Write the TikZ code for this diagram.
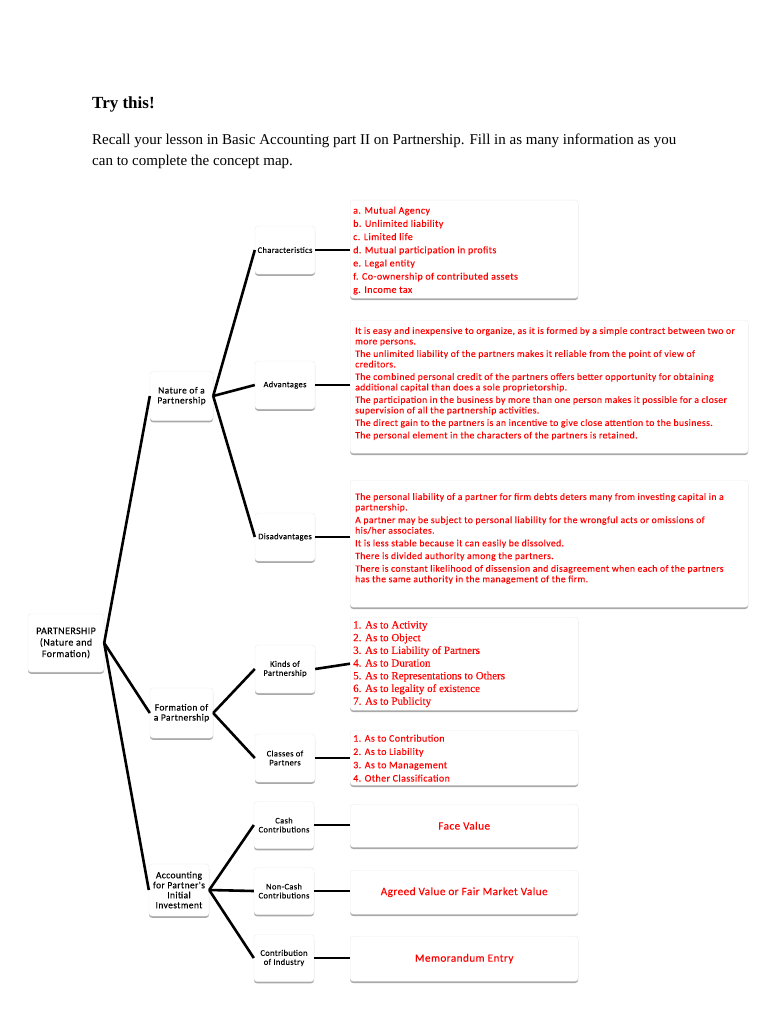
\documentclass[tikz,border=0pt]{standalone}
\usepackage{fontspec}
\setmainfont{Liberation Serif}
\newfontfamily\mapfont[LetterSpace=4,FakeBold=0.12]{Carlito}
\newfontfamily\listserif[FakeBold=0.15]{Liberation Serif}
\usetikzlibrary{shadows}
\definecolor{mapink}{HTML}{000000}
\definecolor{mapred}{HTML}{FF0000}
\definecolor{mapedge}{HTML}{ECECEC}
\definecolor{mapshade}{HTML}{A0A0A0}
\tikzset{
  card/.style={rectangle,rounded corners=3pt,draw=mapedge,fill=white,line width=0.4pt,
    drop shadow={shadow xshift=0pt,shadow yshift=-1.8pt,fill=mapshade,opacity=0.9},
    inner sep=1pt,align=center,text=mapink},
  rootcard/.style={card,minimum width=76pt,minimum height=58pt,
    font=\mapfont\fontsize{10}{11.5}\selectfont},
  topiccard/.style={card,minimum width=63pt,minimum height=49pt,
    font=\mapfont\fontsize{9.5}{10}\selectfont},
  itemcard/.style={card,minimum width=60pt,minimum height=48pt,
    font=\mapfont\fontsize{8.5}{9}\selectfont},
  panel/.style={card,anchor=north west,minimum width=228pt},
  widepanel/.style={panel,minimum width=398pt},
  paneltext/.style={anchor=north west,align=left,inner sep=0pt,text=mapred},
  valuetext/.style={font=\mapfont\fontsize{11.2}{14}\selectfont,text=mapred},
  branch/.style={draw=mapink,line width=2.6pt},
}

\begin{document}
\begin{tikzpicture}[x=1pt,y=-1pt]
  \path[use as bounding box,fill=white] (0,0) rectangle (768,1024);
  \node[anchor=base west,inner sep=0pt,font=\bfseries\fontsize{17}{20}\selectfont] (title) at (92,109) {Try this!};
  \node[anchor=north west,align=left,inner sep=0pt,font=\fontsize{15}{21}\selectfont] (prompt) at (92,133.8)
    {Recall your lesson in Basic Accounting part II on Partnership. Fill in as many information as you\\
     can to complete the concept map.};

  % main branches
  \node[rootcard] (root) at (66,643) {PARTNERSHIP\\(Nature and\\Formation)};
  \node[topiccard] (nature) at (181.5,396) {Nature of a\\Partnership};
  \node[topiccard,minimum height=50pt] (formation) at (181.5,713) {Formation of\\a Partnership};
  \node[topiccard,minimum width=60pt,minimum height=52pt] (accounting) at (179,890)
    {Accounting\\for Partner's\\Initial\\Investment};

  \node[itemcard] (traits) at (285,250) {Characteristics};
  \node[itemcard] (pros) at (285,385) {Advantages};
  \node[itemcard] (cons) at (285,537) {Disadvantages};
  \node[itemcard] (kinds) at (285,669) {Kinds of\\Partnership};
  \node[itemcard] (classes) at (285,758) {Classes of\\Partners};
  \node[itemcard,minimum height=47pt] (cash) at (284,825) {Cash\\Contributions};
  \node[itemcard,minimum height=47pt] (noncash) at (284,891) {Non-Cash\\Contributions};
  \node[itemcard,minimum height=47pt] (industry) at (284,958) {Contribution\\of Industry};

  % answer panels
  \node[panel,minimum height=98pt] (traitpanel) at (350,200) {};
  \node[paneltext,font=\mapfont\fontsize{10}{13.2}\selectfont] (traitlist) at (353,206.5)
    {a. Mutual Agency\\b. Unlimited liability\\c. Limited life\\d. Mutual participation in profits\\
     e. Legal entity\\f. Co-ownership of contributed assets\\g. Income tax};
  \node[widepanel,minimum height=133pt] (propanel) at (350,320) {};
  \node[paneltext,font=\mapfont\fontsize{9.7}{10.5}\selectfont] (prolist) at (355,327)
    {It is easy and inexpensive to organize, as it is formed by a simple contract between two or\\
     more persons.\\[2pt]
     The unlimited liability of the partners makes it reliable from the point of view of\\
     creditors.\\[2pt]
     The combined personal credit of the partners offers better opportunity for obtaining\\
     additional capital than does a sole proprietorship.\\[2pt]
     The participation in the business by more than one person makes it possible for a closer\\
     supervision of all the partnership activities.\\[2pt]
     The direct gain to the partners is an incentive to give close attention to the business.\\[2pt]
     The personal element in the characters of the partners is retained.};
  \node[widepanel,minimum height=127pt] (conpanel) at (350,480) {};
  \node[paneltext,font=\mapfont\fontsize{9.7}{10.5}\selectfont] (conlist) at (355,493)
    {The personal liability of a partner for firm debts deters many from investing capital in a\\
     partnership.\\[2.2pt]
     A partner may be subject to personal liability for the wrongful acts or omissions of\\
     his/her associates.\\[2.2pt]
     It is less stable because it can easily be dissolved.\\[2.2pt]
     There is divided authority among the partners.\\[2.2pt]
     There is constant likelihood of dissension and disagreement when each of the partners\\
     has the same authority in the management of the firm.};
  \node[panel,minimum height=93pt] (kindpanel) at (350,617) {};
  \node[paneltext,font=\listserif\fontsize{11}{12.7}\selectfont] (kindlist) at (353,621)
    {1. As to Activity\\2. As to Object\\3. As to Liability of Partners\\4. As to Duration\\
     5. As to Representations to Others\\6. As to legality of existence\\7. As to Publicity};
  \node[panel,minimum height=55pt] (classpanel) at (350,730) {};
  \node[paneltext,font=\mapfont\fontsize{10}{13.3}\selectfont] (classlist) at (353,734.5)
    {1. As to Contribution\\2. As to Liability\\3. As to Management\\4. Other Classification};
  \node[panel,minimum height=43pt,valuetext] (facevalue) at (350,804) {Face Value};
  \node[panel,minimum height=44pt,valuetext] (fairvalue) at (350,870) {Agreed Value or Fair Market Value};
  \node[panel,minimum height=45pt,valuetext] (memo) at (350,936) {Memorandum Entry};

  \draw[branch] (root.east) -- (nature.west);
  \draw[branch] (root.east) -- (formation.west);
  \draw[branch] (root.east) -- (accounting.west);
  \draw[branch] (nature.east) -- (traits.west);
  \draw[branch] (nature.east) -- (pros.west);
  \draw[branch] (nature.east) -- (cons.west);
  \draw[branch] (formation.east) -- (kinds.west);
  \draw[branch] (formation.east) -- (classes.west);
  \draw[branch] (accounting.east) -- (cash.west);
  \draw[branch] (accounting.east) -- (noncash.west);
  \draw[branch] (accounting.east) -- (industry.west);
  \draw[branch] (traits.east) -- (traits.east -| traitpanel.west);
  \draw[branch] (pros.east) -- (pros.east -| propanel.west);
  \draw[branch] (cons.east) -- (cons.east -| conpanel.west);
  \draw[branch] (kinds.east) -- (kindpanel.west);
  \draw[branch] (classes.east) -- (classes.east -| classpanel.west);
  \draw[branch] (cash.east) -- (cash.east -| facevalue.west);
  \draw[branch] (noncash.east) -- (noncash.east -| fairvalue.west);
  \draw[branch] (industry.east) -- (industry.east -| memo.west);
\end{tikzpicture}
\end{document}
